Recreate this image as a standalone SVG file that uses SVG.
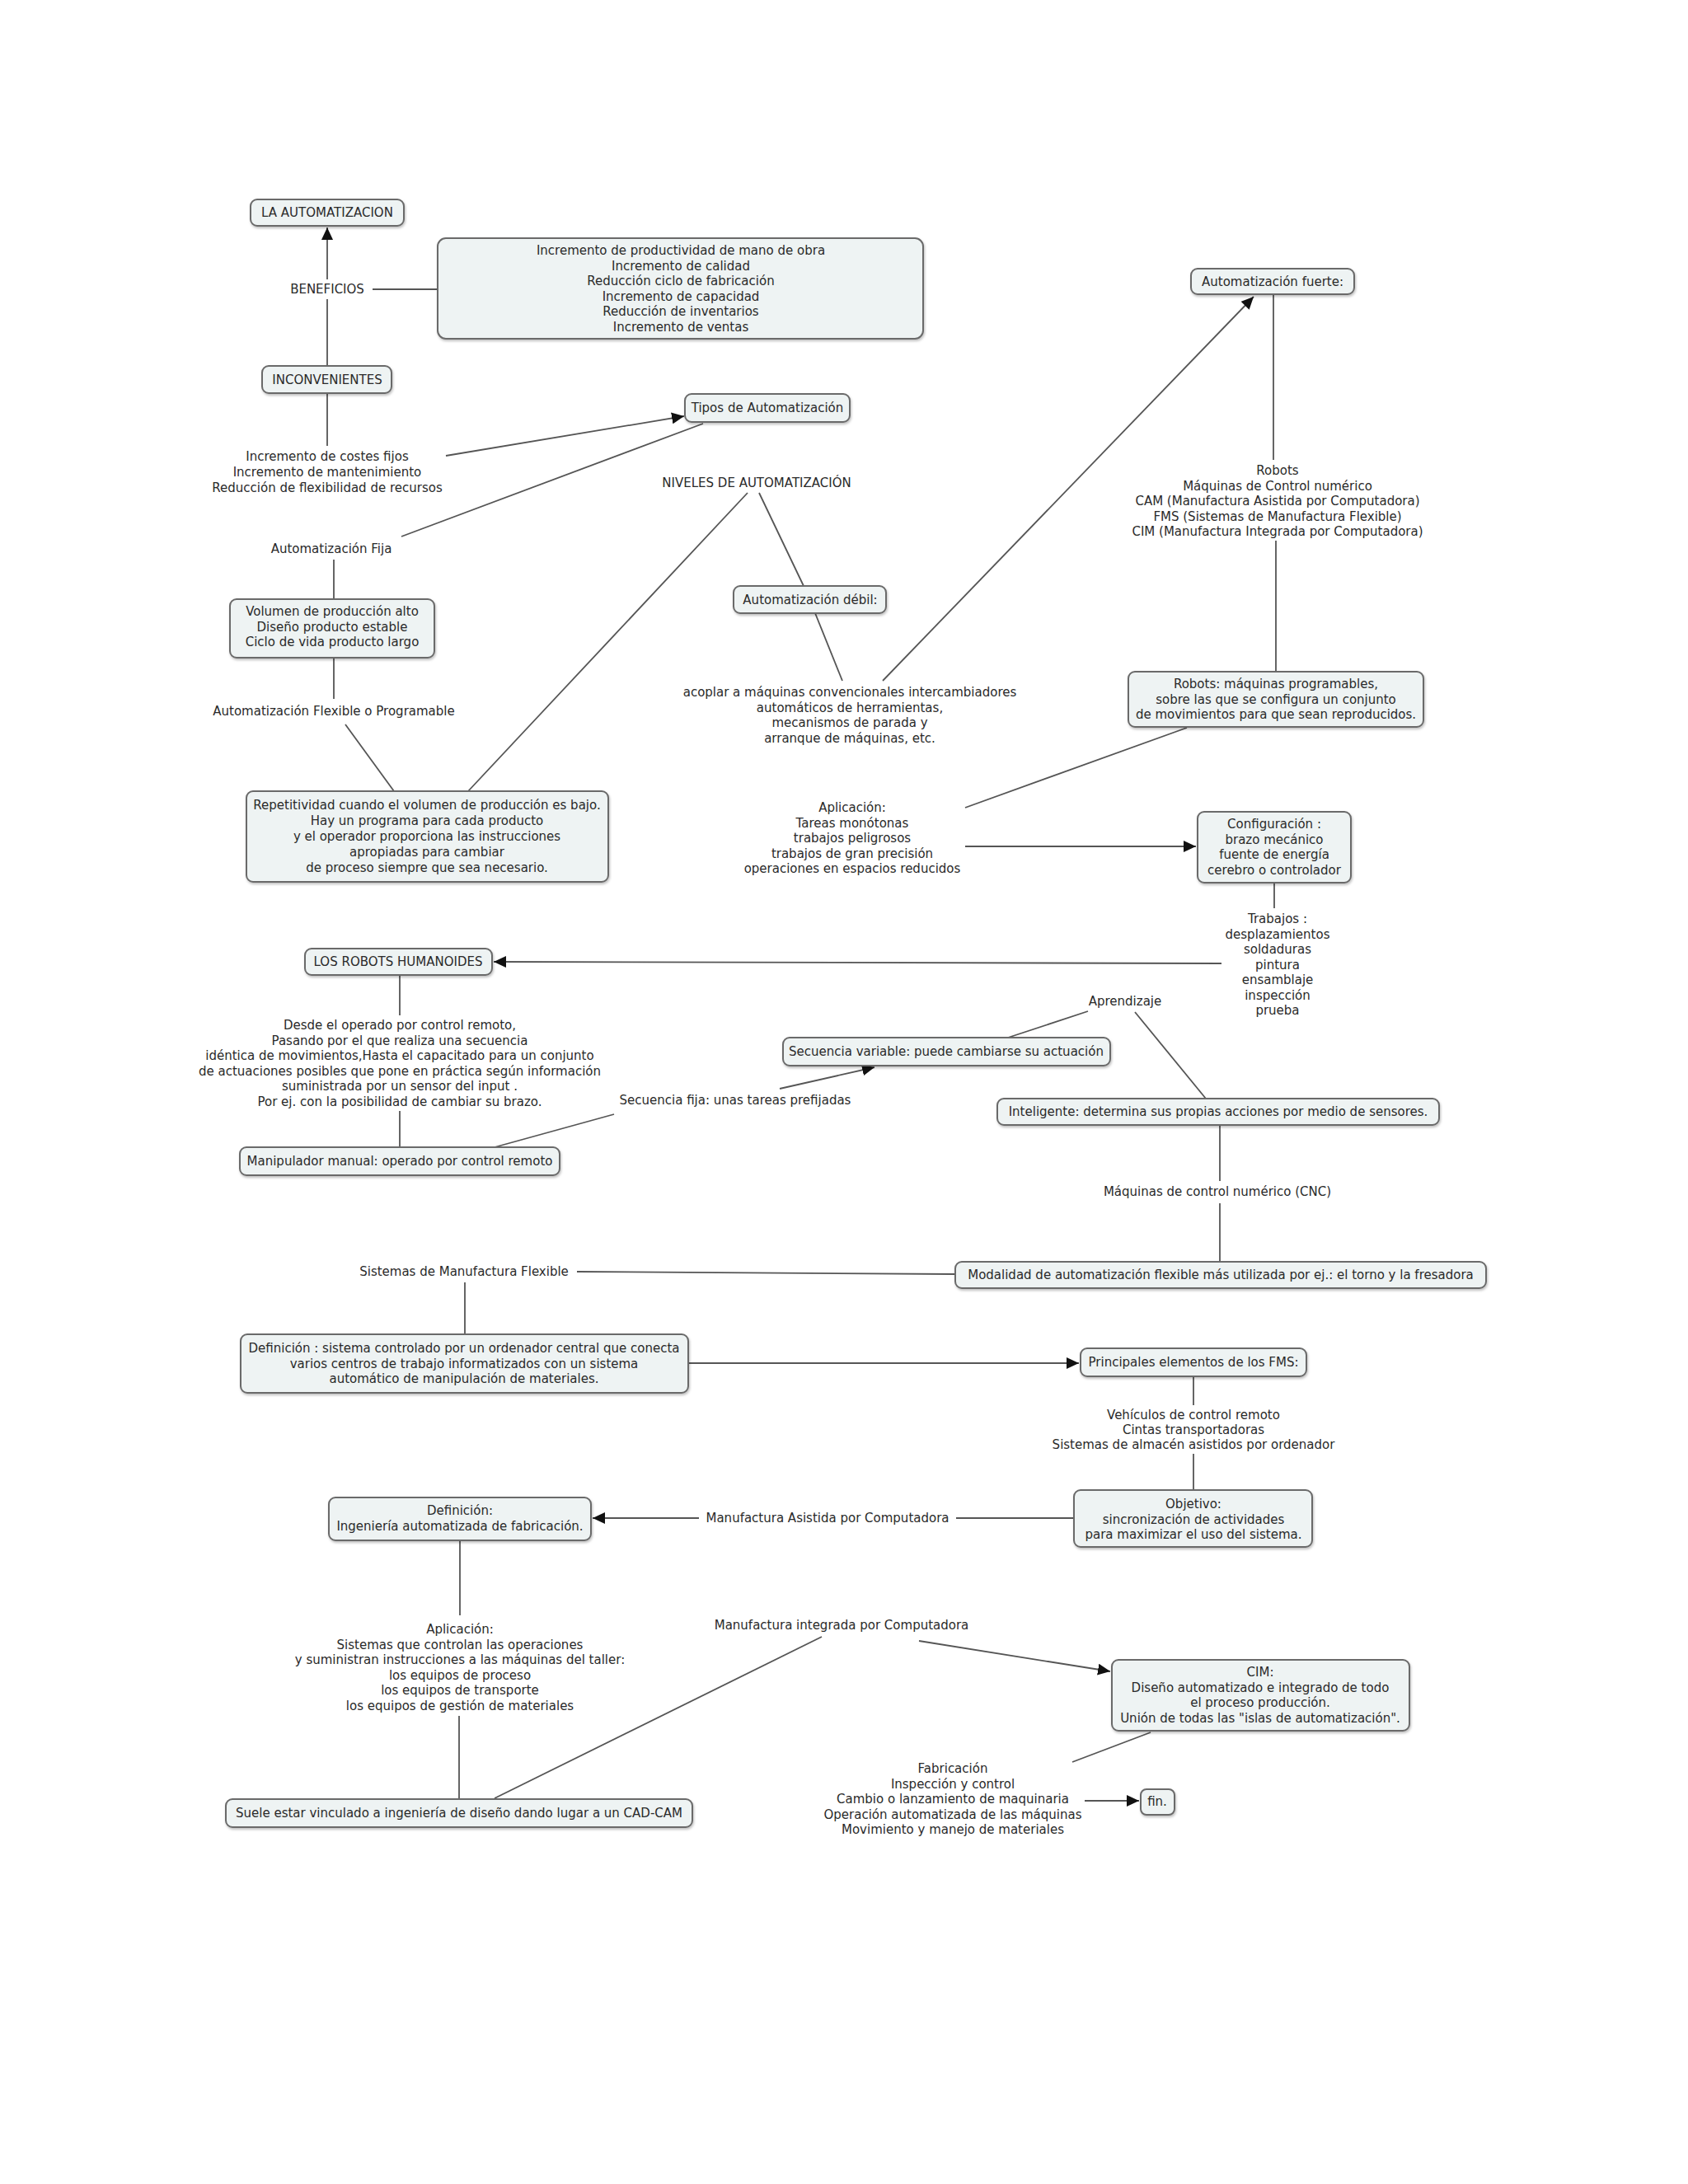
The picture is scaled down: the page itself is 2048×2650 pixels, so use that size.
<svg xmlns="http://www.w3.org/2000/svg" width="2048" height="2650" viewBox="0 0 2048 2650">
<style>
.box{fill:#eef3f3;stroke:#6a6a6a;stroke-width:2;filter:url(#sh)}
.t{font-family:"DejaVu Sans",Verdana,sans-serif;font-size:15px;fill:#2a2a2a;text-anchor:middle}
.c{stroke:#555;stroke-width:1.8;fill:none}
.a{marker-end:url(#arr)}
</style>
<defs>
<marker id="arr" markerUnits="userSpaceOnUse" markerWidth="16" markerHeight="14" refX="15" refY="7" orient="auto">
<path d="M0,0 L15,7 L0,14 z" fill="#111"/>
</marker>
<filter id="sh" x="-10%" y="-20%" width="120%" height="150%">
<feDropShadow dx="1" dy="2" stdDeviation="1.5" flood-color="#000" flood-opacity="0.25"/>
</filter>
</defs>
<rect width="2048" height="2650" fill="#fff"/>
<g id="connectors">
<line class="c" x1="397" y1="444" x2="397" y2="363"/>
<line class="c a" x1="397" y1="339" x2="397" y2="276"/>
<line class="c" x1="452" y1="351" x2="531" y2="351"/>
<line class="c" x1="397" y1="477" x2="397" y2="541"/>
<line class="c a" x1="541" y1="553" x2="830" y2="505"/>
<line class="c" x1="853" y1="514" x2="487" y2="651"/>
<line class="c" x1="405" y1="679" x2="405" y2="727"/>
<line class="c" x1="405" y1="798" x2="405" y2="848"/>
<line class="c" x1="419" y1="879" x2="478" y2="960"/>
<line class="c" x1="568" y1="960" x2="907" y2="598"/>
<line class="c" x1="921" y1="598" x2="975" y2="711"/>
<line class="c" x1="989" y1="744" x2="1022" y2="826"/>
<line class="c a" x1="1071" y1="826" x2="1521" y2="360"/>
<line class="c" x1="1545" y1="357" x2="1545" y2="558"/>
<line class="c" x1="1548" y1="656" x2="1548" y2="815"/>
<line class="c" x1="1440" y1="883" x2="1171" y2="980"/>
<line class="c a" x1="1171" y1="1027" x2="1451" y2="1027"/>
<line class="c" x1="1546" y1="1071" x2="1546" y2="1102"/>
<line class="c a" x1="1482" y1="1169" x2="599" y2="1167"/>
<line class="c" x1="485" y1="1183" x2="485" y2="1232"/>
<line class="c" x1="485" y1="1348" x2="485" y2="1392"/>
<line class="c" x1="600" y1="1392" x2="745" y2="1352"/>
<line class="c a" x1="946" y1="1321" x2="1061" y2="1295"/>
<line class="c" x1="1223" y1="1259" x2="1320" y2="1227"/>
<line class="c" x1="1377" y1="1228" x2="1463" y2="1333"/>
<line class="c" x1="1480" y1="1365" x2="1480" y2="1433"/>
<line class="c" x1="1480" y1="1460" x2="1480" y2="1531"/>
<line class="c" x1="1159" y1="1546" x2="700" y2="1543"/>
<line class="c" x1="564" y1="1556" x2="564" y2="1619"/>
<line class="c a" x1="835" y1="1654" x2="1309" y2="1654"/>
<line class="c" x1="1448" y1="1670" x2="1448" y2="1705"/>
<line class="c" x1="1448" y1="1764" x2="1448" y2="1808"/>
<line class="c" x1="1303" y1="1842" x2="1160" y2="1842"/>
<line class="c a" x1="848" y1="1842" x2="719" y2="1842"/>
<line class="c" x1="558" y1="1869" x2="558" y2="1960"/>
<line class="c" x1="557" y1="2082" x2="557" y2="2183"/>
<line class="c" x1="600" y1="2182" x2="997" y2="1986"/>
<line class="c a" x1="1115" y1="1991" x2="1347" y2="2028"/>
<line class="c" x1="1396" y1="2102" x2="1301" y2="2138"/>
<line class="c a" x1="1316" y1="2185" x2="1382" y2="2185"/>
</g>
<g id="n1"><rect class="box" x="304" y="242" width="186" height="32" rx="8"/><text class="t" x="397" y="263">LA AUTOMATIZACION</text></g>
<g id="n2"><rect class="box" x="531" y="289" width="589" height="122" rx="10"/>
<text class="t" x="826" y="309">Incremento de productividad de mano de obra</text>
<text class="t" x="826" y="327.5">Incremento de calidad</text>
<text class="t" x="826" y="346">Reducción ciclo de fabricación</text>
<text class="t" x="826" y="364.5">Incremento de capacidad</text>
<text class="t" x="826" y="383">Reducción de inventarios</text>
<text class="t" x="826" y="401.5">Incremento de ventas</text></g>
<g id="n3"><text class="t" x="397" y="356">BENEFICIOS</text></g>
<g id="n4"><rect class="box" x="318" y="444" width="157" height="33" rx="8"/><text class="t" x="397" y="466">INCONVENIENTES</text></g>
<g id="n5"><text class="t" x="397" y="559">Incremento de costes fijos</text><text class="t" x="397" y="578">Incremento de mantenimiento</text><text class="t" x="397" y="597">Reducción de flexibilidad de recursos</text></g>
<g id="n6"><rect class="box" x="831" y="478" width="200" height="34" rx="8"/><text class="t" x="931" y="500">Tipos de Automatización</text></g>
<g id="n7"><text class="t" x="402" y="671">Automatización Fija</text></g>
<g id="n8"><rect class="box" x="279" y="727" width="248" height="71" rx="8"/>
<text class="t" x="403" y="747">Volumen de producción alto</text>
<text class="t" x="403" y="765.5">Diseño producto estable</text>
<text class="t" x="403" y="784">Ciclo de vida producto largo</text></g>
<g id="n9"><text class="t" x="405" y="868">Automatización Flexible o Programable</text></g>
<g id="n10"><rect class="box" x="299" y="960" width="439" height="110" rx="8"/>
<text class="t" x="518" y="982">Repetitividad cuando el volumen de producción es bajo.</text>
<text class="t" x="518" y="1001">Hay un programa para cada producto</text>
<text class="t" x="518" y="1020">y el operador proporciona las instrucciones</text>
<text class="t" x="518" y="1039">apropiadas para cambiar</text>
<text class="t" x="518" y="1058">de proceso siempre que sea necesario.</text></g>
<g id="n11"><text class="t" x="918" y="591">NIVELES DE AUTOMATIZACIÓN</text></g>
<g id="n12"><rect class="box" x="890" y="711" width="185" height="33" rx="8"/><text class="t" x="983" y="733">Automatización débil:</text></g>
<g id="n13"><text class="t" x="1031" y="845">acoplar a máquinas convencionales intercambiadores</text>
<text class="t" x="1031" y="863.5">automáticos de herramientas,</text>
<text class="t" x="1031" y="882">mecanismos de parada y</text>
<text class="t" x="1031" y="900.5">arranque de máquinas, etc.</text></g>
<g id="n14"><rect class="box" x="1445" y="326" width="198" height="31" rx="8"/><text class="t" x="1544" y="347">Automatización fuerte:</text></g>
<g id="n15"><text class="t" x="1550" y="576">Robots</text>
<text class="t" x="1550" y="594.5">Máquinas de Control numérico</text>
<text class="t" x="1550" y="613">CAM (Manufactura Asistida por Computadora)</text>
<text class="t" x="1550" y="631.5">FMS (Sistemas de Manufactura Flexible)</text>
<text class="t" x="1550" y="650">CIM (Manufactura Integrada por Computadora)</text></g>
<g id="n16"><rect class="box" x="1369" y="815" width="358" height="67" rx="8"/>
<text class="t" x="1548" y="835">Robots: máquinas programables,</text>
<text class="t" x="1548" y="853.5">sobre las que se configura un conjunto</text>
<text class="t" x="1548" y="872">de movimientos para que sean reproducidos.</text></g>
<g id="n17"><text class="t" x="1034" y="985">Aplicación:</text>
<text class="t" x="1034" y="1003.5">Tareas monótonas</text>
<text class="t" x="1034" y="1022">trabajos peligrosos</text>
<text class="t" x="1034" y="1040.5">trabajos de gran precisión</text>
<text class="t" x="1034" y="1059">operaciones en espacios reducidos</text></g>
<g id="n18"><rect class="box" x="1453" y="985" width="186" height="86" rx="8"/>
<text class="t" x="1546" y="1005">Configuración :</text>
<text class="t" x="1546" y="1023.5">brazo mecánico</text>
<text class="t" x="1546" y="1042">fuente de energía</text>
<text class="t" x="1546" y="1060.5">cerebro o controlador</text></g>
<g id="n19"><text class="t" x="1550" y="1120">Trabajos :</text>
<text class="t" x="1550" y="1138.5">desplazamientos</text>
<text class="t" x="1550" y="1157">soldaduras</text>
<text class="t" x="1550" y="1175.5">pintura</text>
<text class="t" x="1550" y="1194">ensamblaje</text>
<text class="t" x="1550" y="1212.5">inspección</text>
<text class="t" x="1550" y="1231">prueba</text></g>
<g id="n20"><rect class="box" x="370" y="1151" width="227" height="32" rx="8"/><text class="t" x="483" y="1172">LOS ROBOTS HUMANOIDES</text></g>
<g id="n21"><text class="t" x="485" y="1249">Desde el operado por control remoto,</text>
<text class="t" x="485" y="1267.5">Pasando por el que realiza una secuencia</text>
<text class="t" x="485" y="1286">idéntica de movimientos,Hasta el capacitado para un conjunto</text>
<text class="t" x="485" y="1304.5">de actuaciones posibles que pone en práctica según información</text>
<text class="t" x="485" y="1323">suministrada por un sensor del input .</text>
<text class="t" x="485" y="1341.5">Por ej. con la posibilidad de cambiar su brazo.</text></g>
<g id="n22"><rect class="box" x="291" y="1392" width="388" height="34" rx="8"/><text class="t" x="485" y="1414">Manipulador manual: operado por control remoto</text></g>
<g id="n23"><text class="t" x="892" y="1340">Secuencia fija: unas tareas prefijadas</text></g>
<g id="n24"><rect class="box" x="950" y="1259" width="397" height="34" rx="8"/><text class="t" x="1148" y="1281">Secuencia variable: puede cambiarse su actuación</text></g>
<g id="n25"><text class="t" x="1365" y="1220">Aprendizaje</text></g>
<g id="n26"><rect class="box" x="1210" y="1333" width="536" height="32" rx="8"/><text class="t" x="1478" y="1354">Inteligente: determina sus propias acciones por medio de sensores.</text></g>
<g id="n27"><text class="t" x="1477" y="1451">Máquinas de control numérico (CNC)</text></g>
<g id="n28"><rect class="box" x="1159" y="1531" width="644" height="32" rx="8"/><text class="t" x="1481" y="1552">Modalidad de automatización flexible más utilizada por ej.: el torno y la fresadora</text></g>
<g id="n29"><text class="t" x="563" y="1548">Sistemas de Manufactura Flexible</text></g>
<g id="n30"><rect class="box" x="292" y="1619" width="543" height="71" rx="8"/>
<text class="t" x="563" y="1641">Definición : sistema controlado por un ordenador central que conecta</text>
<text class="t" x="563" y="1659.5">varios centros de trabajo informatizados con un sistema</text>
<text class="t" x="563" y="1678">automático de manipulación de materiales.</text></g>
<g id="n31"><rect class="box" x="1311" y="1636" width="274" height="34" rx="8"/><text class="t" x="1448" y="1658">Principales elementos de los FMS:</text></g>
<g id="n32"><text class="t" x="1448" y="1722">Vehículos de control remoto</text>
<text class="t" x="1448" y="1740">Cintas transportadoras</text>
<text class="t" x="1448" y="1758">Sistemas de almacén asistidos por ordenador</text></g>
<g id="n33"><rect class="box" x="1303" y="1808" width="289" height="69" rx="8"/>
<text class="t" x="1448" y="1830">Objetivo:</text>
<text class="t" x="1448" y="1848.5">sincronización de actividades</text>
<text class="t" x="1448" y="1867">para maximizar el uso del sistema.</text></g>
<g id="n34"><text class="t" x="1004" y="1847">Manufactura Asistida por Computadora</text></g>
<g id="n35"><rect class="box" x="399" y="1817" width="318" height="52" rx="8"/>
<text class="t" x="558" y="1838">Definición:</text>
<text class="t" x="558" y="1857">Ingeniería automatizada de fabricación.</text></g>
<g id="n36"><text class="t" x="558" y="1982">Aplicación:</text>
<text class="t" x="558" y="2000.5">Sistemas que controlan las operaciones</text>
<text class="t" x="558" y="2019">y suministran instrucciones a las máquinas del taller:</text>
<text class="t" x="558" y="2037.5">los equipos de proceso</text>
<text class="t" x="558" y="2056">los equipos de transporte</text>
<text class="t" x="558" y="2074.5">los equipos de gestión de materiales</text></g>
<g id="n37"><rect class="box" x="274" y="2183" width="566" height="34" rx="8"/><text class="t" x="557" y="2205">Suele estar vinculado a ingeniería de diseño dando lugar a un CAD-CAM</text></g>
<g id="n38"><text class="t" x="1021" y="1977">Manufactura integrada por Computadora</text></g>
<g id="n39"><rect class="box" x="1349" y="2014" width="361" height="86" rx="8"/>
<text class="t" x="1529" y="2034">CIM:</text>
<text class="t" x="1529" y="2052.5">Diseño automatizado e integrado de todo</text>
<text class="t" x="1529" y="2071">el proceso producción.</text>
<text class="t" x="1529" y="2089.5">Unión de todas las "islas de automatización".</text></g>
<g id="n40"><text class="t" x="1156" y="2151">Fabricación</text>
<text class="t" x="1156" y="2169.5">Inspección y control</text>
<text class="t" x="1156" y="2188">Cambio o lanzamiento de maquinaria</text>
<text class="t" x="1156" y="2206.5">Operación automatizada de las máquinas</text>
<text class="t" x="1156" y="2225">Movimiento y manejo de materiales</text></g>
<g id="n41"><rect class="box" x="1384" y="2171" width="41" height="31" rx="7"/><text class="t" x="1404" y="2191">fin.</text></g>
</svg>
